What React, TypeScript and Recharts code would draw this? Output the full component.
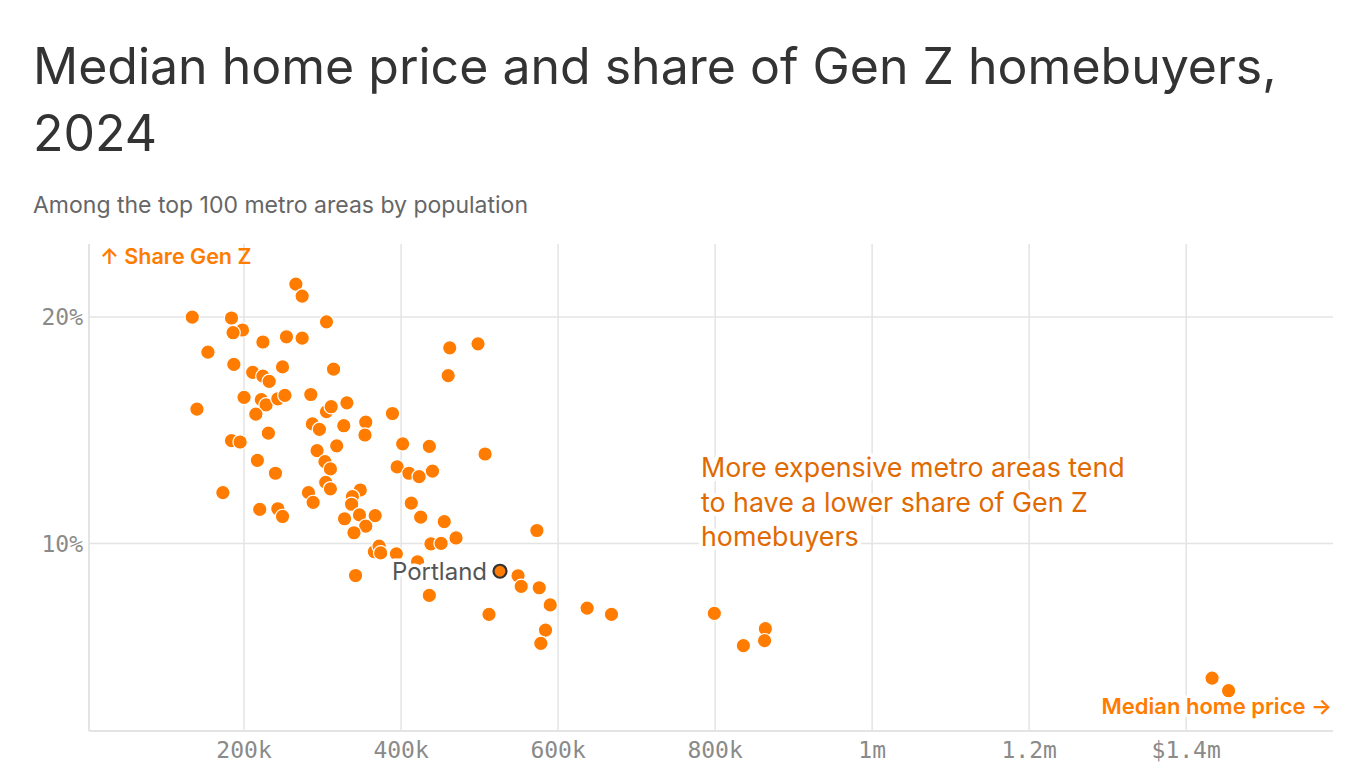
import { ScatterChart, Scatter, XAxis, YAxis, CartesianGrid } from 'recharts';

// Median home price (thousands of dollars) and Gen Z share of homebuyers (%), top 100 metros
const medianPriceK = [
  134, 184, 198, 186, 266, 274, 305, 154, 224, 254, 274, 187, 211, 224, 232, 249, 314,
  200, 222, 228, 243, 252, 285, 140, 215, 305, 311, 462, 498, 460, 331, 389, 355, 354,
  287, 296, 327, 318, 402, 436, 507, 395, 410, 423, 440, 413, 425, 455, 470, 438, 451,
  293, 303, 310, 304, 310, 282, 288, 348, 338, 337, 328, 347, 367, 355, 340, 231, 184,
  195, 217, 240, 173, 220, 243, 249, 366, 372, 374, 394, 421, 342, 436, 549, 553, 576,
  590, 512, 637, 668, 584, 578, 799, 864, 863, 836, 573, 1433, 1454,
];

const genZSharePct = [
  20.0, 19.96, 19.43, 19.31, 21.46, 20.93, 19.79, 18.45, 18.9, 19.13, 19.07, 17.91, 17.56,
  17.39, 17.16, 17.8, 17.7, 16.45, 16.35, 16.12, 16.39, 16.54, 16.58, 15.93, 15.71, 15.82,
  16.04, 18.64, 18.82, 17.41, 16.21, 15.74, 15.36, 14.79, 15.28, 15.04, 15.2, 14.31, 14.4,
  14.29, 13.95, 13.38, 13.1, 12.95, 13.19, 11.78, 11.16, 10.96, 10.24, 9.98, 10.0, 14.1,
  13.61, 13.29, 12.7, 12.41, 12.24, 11.81, 12.36, 12.07, 11.73, 11.09, 11.26, 11.23, 10.76,
  10.47, 14.87, 14.54, 14.48, 13.67, 13.1, 12.24, 11.5, 11.53, 11.19, 9.63, 9.88, 9.58, 9.54,
  9.19, 8.58, 7.7, 8.57, 8.1, 8.04, 7.28, 6.86, 7.14, 6.86, 6.17, 5.58, 6.91, 6.23, 5.7, 5.48,
  10.57, 4.05, 3.49,
];

const highlighted = [{ city: 'Portland', price: 526000, share: 8.77 }];

const priceTicks = [200000, 400000, 600000, 800000, 1000000, 1200000, 1400000];
const shareTicks = [10, 20];

const ORANGE = '#ff7c00';
const NOTE_ORANGE = '#e06a00';
const GRID = '#e4e4e4';
const SANS = 'Inter, "Noto Sans", sans-serif';
const MONO = '"DejaVu Sans Mono", monospace';

const metros = medianPriceK.map((p, i) => ({ price: p * 1000, share: genZSharePct[i] }));

const formatPrice = (v: number) => {
  if (v >= 1000000) {
    const m = `${v / 1000000}m`;
    return v === 1400000 ? `$${m}` : m;
  }
  return `${v / 1000}k`;
};

const PriceTick = (props: any) => {
  const { x, y, payload } = props;
  return (
    <text x={x} y={y + 27} textAnchor="middle" fill="#8a8a8a" fontSize={23} fontFamily={MONO}>
      {formatPrice(payload.value)}
    </text>
  );
};

const ShareTick = (props: any) => {
  const { x, y, payload } = props;
  return (
    <text x={x - 6} y={y} dy="0.36em" textAnchor="end" fill="#8a8a8a" fontSize={23} fontFamily={MONO}>
      {`${payload.value}%`}
    </text>
  );
};

const Dot = (props: any) => (
  <circle cx={props.cx} cy={props.cy} r={7.2} fill={ORANGE} stroke="#fff" strokeWidth={1.2} />
);

const CityDot = (props: any) => {
  const { cx, cy, payload } = props;
  return (
    <g>
      <text
        x={cx - 13}
        y={cy}
        dy="0.35em"
        textAnchor="end"
        fill="#555"
        fontSize={24}
        fontFamily={SANS}
        stroke="#fff"
        strokeWidth={7}
        strokeLinejoin="round"
        paintOrder="stroke"
      >
        {payload.city}
      </text>
      <circle cx={cx} cy={cy} r={6.5} fill={ORANGE} stroke="#333" strokeWidth={2.2} />
    </g>
  );
};

const noteLines = [
  'More expensive metro areas tend',
  'to have a lower share of Gen Z',
  'homebuyers',
];

export default function App() {
  return (
    <div style={{ position: 'absolute', left: 0, top: 0, width: 1366, height: 768, background: '#fff' }}>
      <ScatterChart width={1366} height={768} margin={{ top: 244, right: 33, bottom: 0, left: 29 }}>
        <CartesianGrid
          stroke={GRID}
          strokeWidth={1.5}
          horizontalValues={shareTicks}
          verticalValues={priceTicks}
        />
        <XAxis
          type="number"
          dataKey="price"
          domain={[2500, 1587000]}
          ticks={priceTicks}
          tick={<PriceTick />}
          tickLine={false}
          tickSize={0}
          tickMargin={0}
          height={37}
          axisLine={{ stroke: GRID, strokeWidth: 2 }}
          allowDataOverflow
        />
        <YAxis
          type="number"
          dataKey="share"
          domain={[1.71, 23.23]}
          ticks={shareTicks}
          tick={<ShareTick />}
          tickLine={false}
          tickSize={0}
          tickMargin={0}
          width={60}
          axisLine={{ stroke: GRID, strokeWidth: 2 }}
          allowDataOverflow
        />
        <Scatter data={metros} shape={<Dot />} isAnimationActive={false} />
        <Scatter data={highlighted} shape={<CityDot />} isAnimationActive={false} />
      </ScatterChart>

      <svg
        width={1366}
        height={768}
        style={{ position: 'absolute', left: 0, top: 0, pointerEvents: 'none' }}
      >
        <text x={33} y={84} fontSize={50} fontFamily={SANS} fill="#333">
          Median home price and share of Gen Z homebuyers,
        </text>
        <text x={33} y={151} fontSize={50} fontFamily={SANS} fill="#333">
          2024
        </text>
        <text x={33} y={213} fontSize={23} fontFamily={SANS} fill="#666">
          Among the top 100 metro areas by population
        </text>

        <text x={100} y={264} fontSize={21.5} fontWeight={600} fontFamily={SANS} fill={ORANGE}>
          ↑ Share Gen Z
        </text>
        <text
          x={1332}
          y={714}
          textAnchor="end"
          fontSize={22}
          fontWeight={600}
          fontFamily={SANS}
          fill={ORANGE}
          stroke="#fff"
          strokeWidth={5}
          paintOrder="stroke"
        >
          Median home price →
        </text>

        {noteLines.map((line, i) => (
          <text
            key={line}
            x={701}
            y={477 + i * 34.5}
            fontSize={26.8}
            fontFamily={SANS}
            fill={NOTE_ORANGE}
            stroke="#fff"
            strokeWidth={8}
            strokeLinejoin="round"
            paintOrder="stroke"
          >
            {line}
          </text>
        ))}
      </svg>
    </div>
  );
}
